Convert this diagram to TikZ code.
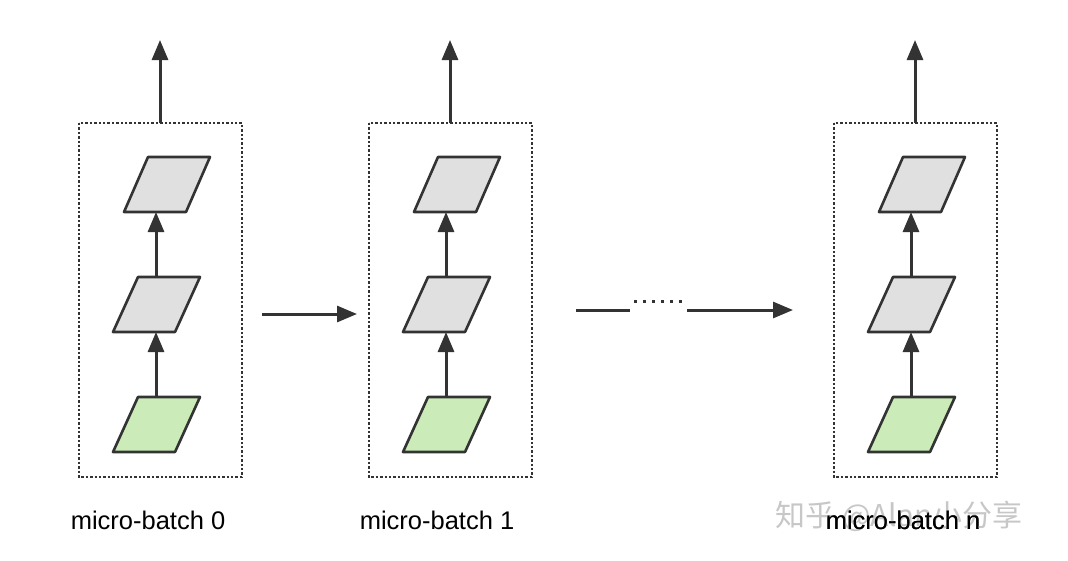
\documentclass[tikz,border=0pt]{standalone}
\usepackage{fontspec}
\setmainfont{Liberation Sans}
\newfontfamily\cjk{Noto Sans CJK SC}
\usetikzlibrary{arrows.meta}
\definecolor{ln}{HTML}{333333}
\definecolor{gr}{HTML}{E0E0E0}
\definecolor{gn}{HTML}{CBECB8}
\tikzset{
 par/.style={draw=ln,line width=2.6pt,line join=round},
 arr/.style={draw=ln,line width=3pt,-{Triangle[length=20pt,width=16pt]}},
 grp/.style={draw=ln,line width=2.4pt,dotted},
 lab/.style={font=\fontsize{25.5}{30}\selectfont,text=black},
}
\begin{document}
\begin{tikzpicture}[x=1pt,y=-1pt]
\useasboundingbox (0,0) rectangle (1068,560);
\foreach \o/\n/\t/\lx in {0/a/0/148,290/b/1/147,755/c/n/148}{
 \begin{scope}[xshift=\o pt]
 \draw[grp] (79,123) rectangle (242,477);
 \coordinate (\n top) at (160,123);
 \coordinate (\n up) at (160,40);
 \draw[par,fill=gr] (124,212)--(148,157)--(210,157)--(186,212)--cycle;
 \draw[par,fill=gr] (113,332)--(138,277)--(200,277)--(175,332)--cycle;
 \draw[par,fill=gn] (113,452)--(138,397)--(200,397)--(175,452)--cycle;
 \coordinate (\n1) at (156,397); \coordinate (\n2) at (156,332);
 \coordinate (\n3) at (156,277); \coordinate (\n4) at (156,212);
 \draw[arr] (\n1)--(\n2);
 \draw[arr] (\n3)--(\n4);
 \draw[arr] (\n top)--(\n up);
 \ifx\n c\else\node[lab] (\n lab) at (\lx,520) {micro-batch \t};\fi
 \end{scope}
}
\coordinate (h1) at (262,314); \coordinate (h2) at (357,314);
\draw[arr] (h1)--(h2);
\coordinate (g1) at (576,310); \coordinate (g2) at (630,310);
\coordinate (g3) at (687,310); \coordinate (g4) at (793,310);
\draw[draw=ln,line width=3pt] (g1)--(g2);
\draw[draw=ln,line width=3pt,dash pattern=on 3pt off 6pt] (634,301)--(684,301);
\draw[arr] (g3)--(g4);
\node[font=\fontsize{30}{34}\selectfont\cjk,text=black!22,anchor=west] (wm) at (772,516) {知乎 @Alan小分享};
\node[lab] (clab) at (903,520) {micro-batch n};
\end{tikzpicture}
\end{document}
